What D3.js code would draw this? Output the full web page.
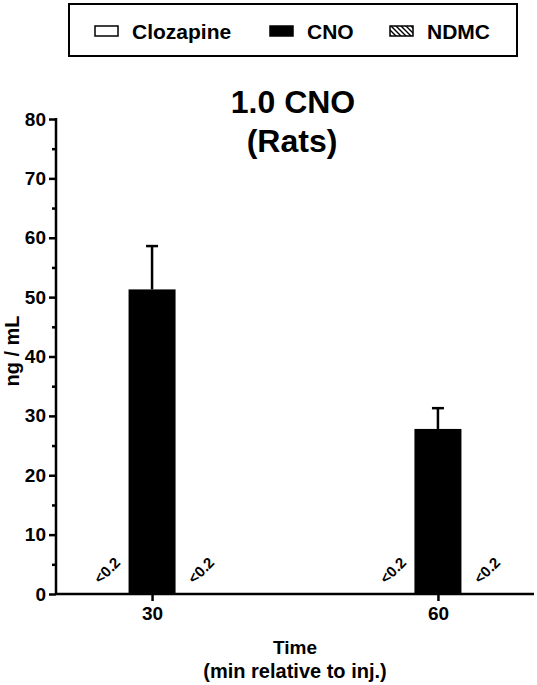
<!DOCTYPE html>
<html>
<head>
<meta charset="utf-8">
<script src="https://cdn.jsdelivr.net/npm/d3@7"></script>
<style>
  html, body { margin: 0; padding: 0; background: #fff; }
  svg { display: block; font-family: Arial, "Liberation Sans", sans-serif; font-weight: bold; }
</style>
</head>
<body>
<svg id="chart" width="537" height="685"></svg>
<script>
// data
const timePoints = ["30", "60"];
const seriesNames = ["Clozapine", "CNO", "NDMC"];
const cnoMean = [51.3, 27.8];
const cnoErr = [7.3, 3.5];
const belowLimitLabel = "<0.2";
const yTicks = [0, 10, 20, 30, 40, 50, 60, 70, 80];

const svg = d3.select("#chart");
const plot = { left: 56, right: 534, top: 119, bottom: 594 };
const font = "Arial, 'Liberation Sans', sans-serif";

// hatch pattern for NDMC
const defs = svg.append("defs");
defs.append("pattern").attr("id", "hatch").attr("patternUnits", "userSpaceOnUse")
  .attr("width", 5).attr("height", 5)
  .append("path").attr("d", "M-1,-1 L6,6 M-1,4 L1,6 M4,-1 L6,1")
  .attr("stroke", "#000").attr("stroke-width", 1.4);

const y = d3.scaleLinear().domain([0, 80]).range([plot.bottom, plot.top]);
const x = d3.scalePoint().domain(timePoints).range([plot.left, plot.right]).padding(0.336);
const inner = d3.scaleBand().domain(seriesNames).range([-70.5, 70.5]);

// legend
const legend = svg.append("g");
legend.append("rect").attr("x", 69).attr("y", 4).attr("width", 448).attr("height", 52)
  .attr("fill", "none").attr("stroke", "#000").attr("stroke-width", 2);
const legendX = { Clozapine: 95, CNO: 270, NDMC: 390 };
const legendFill = { Clozapine: "#fff", CNO: "#000", NDMC: "url(#hatch)" };
seriesNames.forEach(s => {
  legend.append("rect").attr("x", legendX[s]).attr("y", 26).attr("width", 23).attr("height", 10)
    .attr("fill", legendFill[s]).attr("stroke", "#000").attr("stroke-width", 1.5);
  legend.append("text").attr("x", legendX[s] + 37).attr("y", 38.5)
    .attr("font-size", 21).text(s);
});

// title
svg.append("text").attr("x", 293).attr("y", 113).attr("text-anchor", "middle")
  .attr("font-size", 32).text("1.0 CNO");
svg.append("text").attr("x", 292).attr("y", 152).attr("text-anchor", "middle")
  .attr("font-size", 32).text("(Rats)");

// bars
const groups = svg.append("g").selectAll("g").data(timePoints).join("g")
  .attr("transform", d => `translate(${x(d)},0)`);

groups.append("rect")
  .attr("x", inner("CNO")).attr("width", inner.bandwidth())
  .attr("y", (d, i) => y(cnoMean[i]))
  .attr("height", (d, i) => y(0) - y(cnoMean[i]))
  .attr("fill", "#000");

// error bars (upper only)
groups.append("line")
  .attr("x1", 0).attr("x2", 0)
  .attr("y1", (d, i) => y(cnoMean[i]))
  .attr("y2", (d, i) => y(cnoMean[i] + cnoErr[i]))
  .attr("stroke", "#000").attr("stroke-width", 2.5);
groups.append("line")
  .attr("x1", -6).attr("x2", 6)
  .attr("y1", (d, i) => y(cnoMean[i] + cnoErr[i]))
  .attr("y2", (d, i) => y(cnoMean[i] + cnoErr[i]))
  .attr("stroke", "#000").attr("stroke-width", 2.5);

// "<0.2" labels for clozapine and NDMC
["Clozapine", "NDMC"].forEach(s => {
  groups.append("text")
    .attr("transform", `translate(${inner(s) + inner.bandwidth() / 2 + 2},${y(4)}) rotate(-45)`)
    .attr("text-anchor", "middle").attr("dy", "0.35em")
    .attr("font-size", 15).text(belowLimitLabel);
});

// y axis
const yAxis = svg.append("g").attr("transform", `translate(${plot.left},0)`)
  .call(d3.axisLeft(y).tickValues(yTicks).tickSize(7).tickPadding(3));
svg.append("g").attr("transform", `translate(${plot.left},0)`)
  .call(d3.axisLeft(y).tickValues(d3.range(5, 80, 10)).tickSize(4).tickFormat(""))
  .call(g => g.select(".domain").remove());
yAxis.selectAll("text").attr("font-size", 19).attr("font-weight", "bold")
  .attr("font-family", font).attr("fill", "#000");
svg.selectAll(".tick line").attr("stroke-width", 2.5);
yAxis.select(".domain").attr("stroke-width", 2.5).attr("d", `M0,${plot.bottom}V${plot.top - 1}`);

// x axis
const xAxis = svg.append("g").attr("transform", `translate(0,${plot.bottom})`)
  .call(d3.axisBottom(x).tickSize(7).tickPadding(6));
xAxis.select(".domain").attr("stroke-width", 2.5).attr("d", `M${plot.left},0H${plot.right}`);
xAxis.selectAll(".tick line").attr("stroke-width", 2.5);
xAxis.selectAll("text").attr("font-size", 19).attr("font-weight", "bold")
  .attr("font-family", font).attr("fill", "#000");

// axis titles
svg.append("text").attr("transform", "translate(19,351) rotate(-90)")
  .attr("text-anchor", "middle").attr("font-size", 20).text("ng / mL");
svg.append("text").attr("x", 295).attr("y", 654).attr("text-anchor", "middle")
  .attr("font-size", 19).text("Time");
svg.append("text").attr("x", 295).attr("y", 678).attr("text-anchor", "middle")
  .attr("font-size", 20).text("(min relative to inj.)");
</script>
</body>
</html>
